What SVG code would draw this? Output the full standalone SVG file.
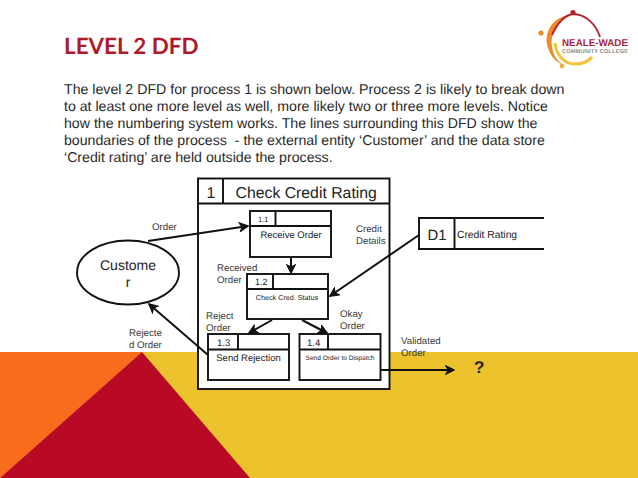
<svg xmlns="http://www.w3.org/2000/svg" width="638" height="478" viewBox="0 0 638 478">
<style>
text{font-family:"Liberation Sans",Arial,sans-serif;fill:#222;text-rendering:geometricPrecision}
.b{fill:#fff;stroke:#111;stroke-width:1.9}
.l{fill:none;stroke:#111;stroke-width:1.9}
.c{fill:none;stroke:#111;stroke-width:2;marker-end:url(#a)}
.body{font-size:14.16px;fill:#2a2a2a}
.s{font-size:9.700px;fill:#3a3a3a}
.n{font-size:9px}
.m{text-anchor:middle}
</style>
<defs>
<marker id="a" viewBox="0 0 10 10" refX="9" refY="5" markerWidth="10" markerHeight="10" orient="auto" markerUnits="userSpaceOnUse"><path d="M0.5 0.5L9.500 5L0.5 9.500L3 5Z" fill="#111" stroke="#111"/></marker>
</defs>
<rect width="638" height="478" fill="#fff"/>
<g id="background">
<rect y="352" width="638" height="126" fill="#ecc22d"/>
<path d="M0 352H142L0 478Z" fill="#f96c1e"/>
<path d="M142 352L250 478H0Z" fill="#b80a25"/>
</g>
<g id="logo" fill="none">
<path d="M571 14.500C552 17 543 33 548 48C551 57 556 62 563 65C556 60 553 54 552 46C550 33 558 21 571 14.500Z" fill="#ee8a2a"/>
<path d="M552 35C558 22 566 15 573 14C585 14 596 24 600 37" stroke="#b8202f" stroke-width="1.800"/>
<path d="M555 43C556 55 565 64 574 64C583 64 589 61 592 57" stroke="#f0c33a" stroke-width="3"/>
<circle cx="573" cy="12.500" r="2.600" fill="#b8202f"/>
<circle cx="541" cy="33" r="2.600" fill="#ee8a2a"/>
<circle cx="562" cy="66" r="2.400" fill="#efb04a"/>
<text x="562" y="46" font-size="9.800" font-weight="bold" style="fill:#a8243a" textLength="66">NEALE-WADE</text>
<text x="562" y="52.500" font-size="5.600" font-weight="bold" style="fill:#8a8a8a" textLength="66">COMMUNITY COLLEGE</text>
</g>
<text x="64" y="53.500" font-size="22.400" font-weight="700" style="font-family:Lato,sans-serif;fill:#ae1a2c">LEVEL 2 DFD</text>
<g id="intro">
<text class="body" x="64" y="94">The level 2 DFD for process 1 is shown below. Process 2 is likely to break down</text>
<text class="body" x="64" y="110.500">to at least one more level as well, more likely two or three more levels. Notice</text>
<text class="body" x="64" y="127.500">how the numbering system works. The lines surrounding this DFD show the</text>
<text class="body" x="64" y="144.500">boundaries of the process &#160;- the external entity ‘Customer’ and the data store</text>
<text class="body" x="64" y="161.500">‘Credit rating’ are held outside the process.</text>
</g>
<g id="process-1">
<rect class="b" x="198" y="178.500" width="191.500" height="210.500"/>
<path class="l" d="M198 203.500H389.500M223 178.500V203.500"/>
<text x="206.500" y="197.500" font-size="15.800">1</text>
<text x="235.500" y="197.500" font-size="15.800">Check Credit Rating</text>
</g>
<g id="customer">
<ellipse class="b" cx="128" cy="272.500" rx="51" ry="32"/>
<text class="m" x="128" y="270" font-size="14">Custome</text>
<text class="m" x="128" y="287" font-size="14">r</text>
</g>
<g id="p1-1">
<rect class="b" x="250" y="211" width="81" height="46"/>
<path class="l" d="M250 226H331M275.500 211V226"/>
<text class="n" x="258" y="222" style="font-size:7.500px">1.1</text>
<text class="m" x="291" y="238" font-size="9.500">Receive Order</text>
</g>
<g id="p1-2">
<rect class="b" x="247" y="274" width="81" height="45"/>
<path class="l" d="M247 289H328M273 274V289"/>
<text class="n" x="255" y="285">1.2</text>
<text class="m" x="287" y="300" font-size="7.200">Check Cred. Status</text>
</g>
<g id="p1-3">
<rect class="b" x="208" y="334" width="81" height="46"/>
<path class="l" d="M208 349.500H289M238 334V349.500"/>
<text class="n" x="217" y="346" style="font-size:9.500px">1.3</text>
<text class="m" x="248.500" y="361" font-size="9.500">Send Rejection</text>
</g>
<g id="p1-4">
<rect class="b" x="299.500" y="334" width="81" height="46"/>
<path class="l" d="M299.500 349.500H380.500M328 334V349.500"/>
<text class="n" x="307" y="346" style="font-size:9.500px">1.4</text>
<text class="m" x="340" y="360" font-size="6.600">Send Order to Dispatch</text>
</g>
<g id="d1">
<path class="l" d="M544 218H419V249H544M454.500 218V249"/>
<text x="427.500" y="240" font-size="14.900">D1</text>
<text x="457" y="238" font-size="10.300">Credit Rating</text>
</g>
<g id="connectors">
<path class="c" d="M148 241L248 226"/>
<path class="c" d="M291 257V273"/>
<path class="c" d="M419 235L330 296"/>
<path class="c" d="M272 320L249 333"/>
<path class="c" d="M302 320L327 333"/>
<path class="c" d="M208 355L149 304"/>
<path class="c" d="M381 370H454"/>
</g>
<g id="labels">
<text class="s" x="152" y="230">Order</text>
<text class="s" x="356" y="232">Credit</text>
<text class="s" x="356" y="244">Details</text>
<text class="s" x="217" y="271">Received</text>
<text class="s" x="217" y="283">Order</text>
<text class="s" x="206" y="319">Reject</text>
<text class="s" x="206" y="331">Order</text>
<text class="s" x="340" y="317">Okay</text>
<text class="s" x="340" y="329">Order</text>
<text class="s" x="129" y="336">Rejecte</text>
<text class="s" x="129" y="348">d Order</text>
<text class="s" x="401" y="344">Validated</text>
<text class="s" x="401" y="356">Order</text>
<text x="474" y="373" font-size="17" font-weight="bold">?</text>
</g>
</svg>
